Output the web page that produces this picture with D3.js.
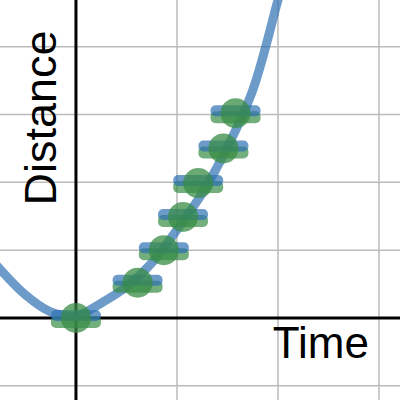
<!DOCTYPE html><html><head><meta charset="utf-8"><script src="https://cdn.jsdelivr.net/npm/d3@7"></script>
<style>body{margin:0}svg{display:block}</style></head><body><svg width="400" height="400"></svg>
<script>
const curveX=[-0.8,-0.5,-0.25,0,0.25,0.5,0.75,1,1.25,1.5,1.75,2,2.05];
const curveY=[0.8,0.34,0.09,0.03,0.22,0.46,0.81,1.3,1.84,2.52,3.36,4.69,4.95];
const ptX=[0,0.61,0.87,1.06,1.21,1.46,1.58];
const ptY=[0,0.52,1.0,1.49,1.99,2.5,3.02];
const xTicks=[1,2,3];
const yTicks=[-1,1,2,3,4];
const svg=d3.select("svg");
const x=d3.scaleLinear().domain([-0.752,3.208]).range([0,400]);
const y=d3.scaleLinear().domain([-1.21,4.69]).range([400,0]);
svg.append("g").selectAll("line").data(xTicks).join("line").attr("x1",d=>x(d)).attr("x2",d=>x(d)).attr("y1",0).attr("y2",400).attr("stroke","#bbb").attr("stroke-width",1.5);
svg.append("g").selectAll("line").data(yTicks).join("line").attr("y1",d=>y(d)).attr("y2",d=>y(d)).attr("x1",0).attr("x2",400).attr("stroke","#bbb").attr("stroke-width",1.5);
svg.append("line").attr("x1",x(0)).attr("x2",x(0)).attr("y1",0).attr("y2",400).attr("stroke","#000").attr("stroke-width",3);
svg.append("line").attr("y1",y(0)).attr("y2",y(0)).attr("x1",0).attr("x2",400).attr("stroke","#000").attr("stroke-width",3);
svg.append("text").attr("transform",`translate(56,118) rotate(-90)`).attr("text-anchor","middle").attr("font-family","Liberation Sans, Arial").attr("font-size",45).text("Distance");
svg.append("text").attr("x",369).attr("y",358).attr("text-anchor","end").attr("font-family","Liberation Sans, Arial").attr("font-size",44).text("Time");
const line=d3.line().x((d,i)=>x(curveX[i])).y((d,i)=>y(curveY[i])).curve(d3.curveCatmullRom);
svg.append("path").datum(curveX).attr("d",line).attr("fill","none").attr("stroke","#2d70b3").attr("stroke-opacity",0.7).attr("stroke-width",9).attr("stroke-linecap","round");
const pts=ptX.map((v,i)=>[v,ptY[i]]);
const g=svg.append("g").selectAll("g").data(pts).join("g").attr("transform",d=>`translate(${x(d[0])},${y(d[1])})`);
g.append("rect").attr("x",-25).attr("y",-2).attr("width",50).attr("height",12).attr("rx",5).attr("fill","#388c46").attr("opacity",0.7);
g.append("rect").attr("x",-25).attr("y",-8).attr("width",50).attr("height",11).attr("rx",5).attr("fill","#2d70b3").attr("opacity",0.7);
g.append("circle").attr("r",15).attr("fill","#388c46").attr("opacity",0.75);
</script></body></html>
